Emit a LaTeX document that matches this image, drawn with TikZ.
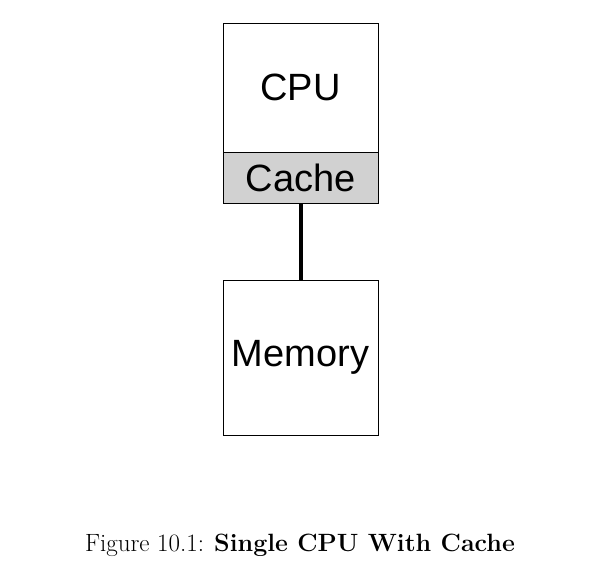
\documentclass[tikz,border=0pt]{standalone}
\usepackage{fontspec}
\newfontfamily\sans{Liberation Sans}
\begin{document}
\begin{tikzpicture}[x=1pt,y=-1pt,
  box/.style={draw,line width=0.8pt,minimum width=155pt,inner sep=0pt,font=\sans\fontsize{38}{40}\selectfont}]
\useasboundingbox (0,0) rectangle (600,580);
\node[box,minimum height=129pt] (cpu) at (300.5,87.5) {CPU};
\node[box,minimum height=51pt,fill=black!18] (cache) at (300.5,177.5) {Cache};
\node[box,minimum height=155pt] (mem) at (300.5,357.5) {Memory};
\draw[line width=4pt] (cache.south) -- (mem.north);
\node[font=\fontsize{25}{28}\selectfont] (cap) at (300,545) {Figure 10.1: \textbf{Single CPU With Cache}};
\end{tikzpicture}
\end{document}
